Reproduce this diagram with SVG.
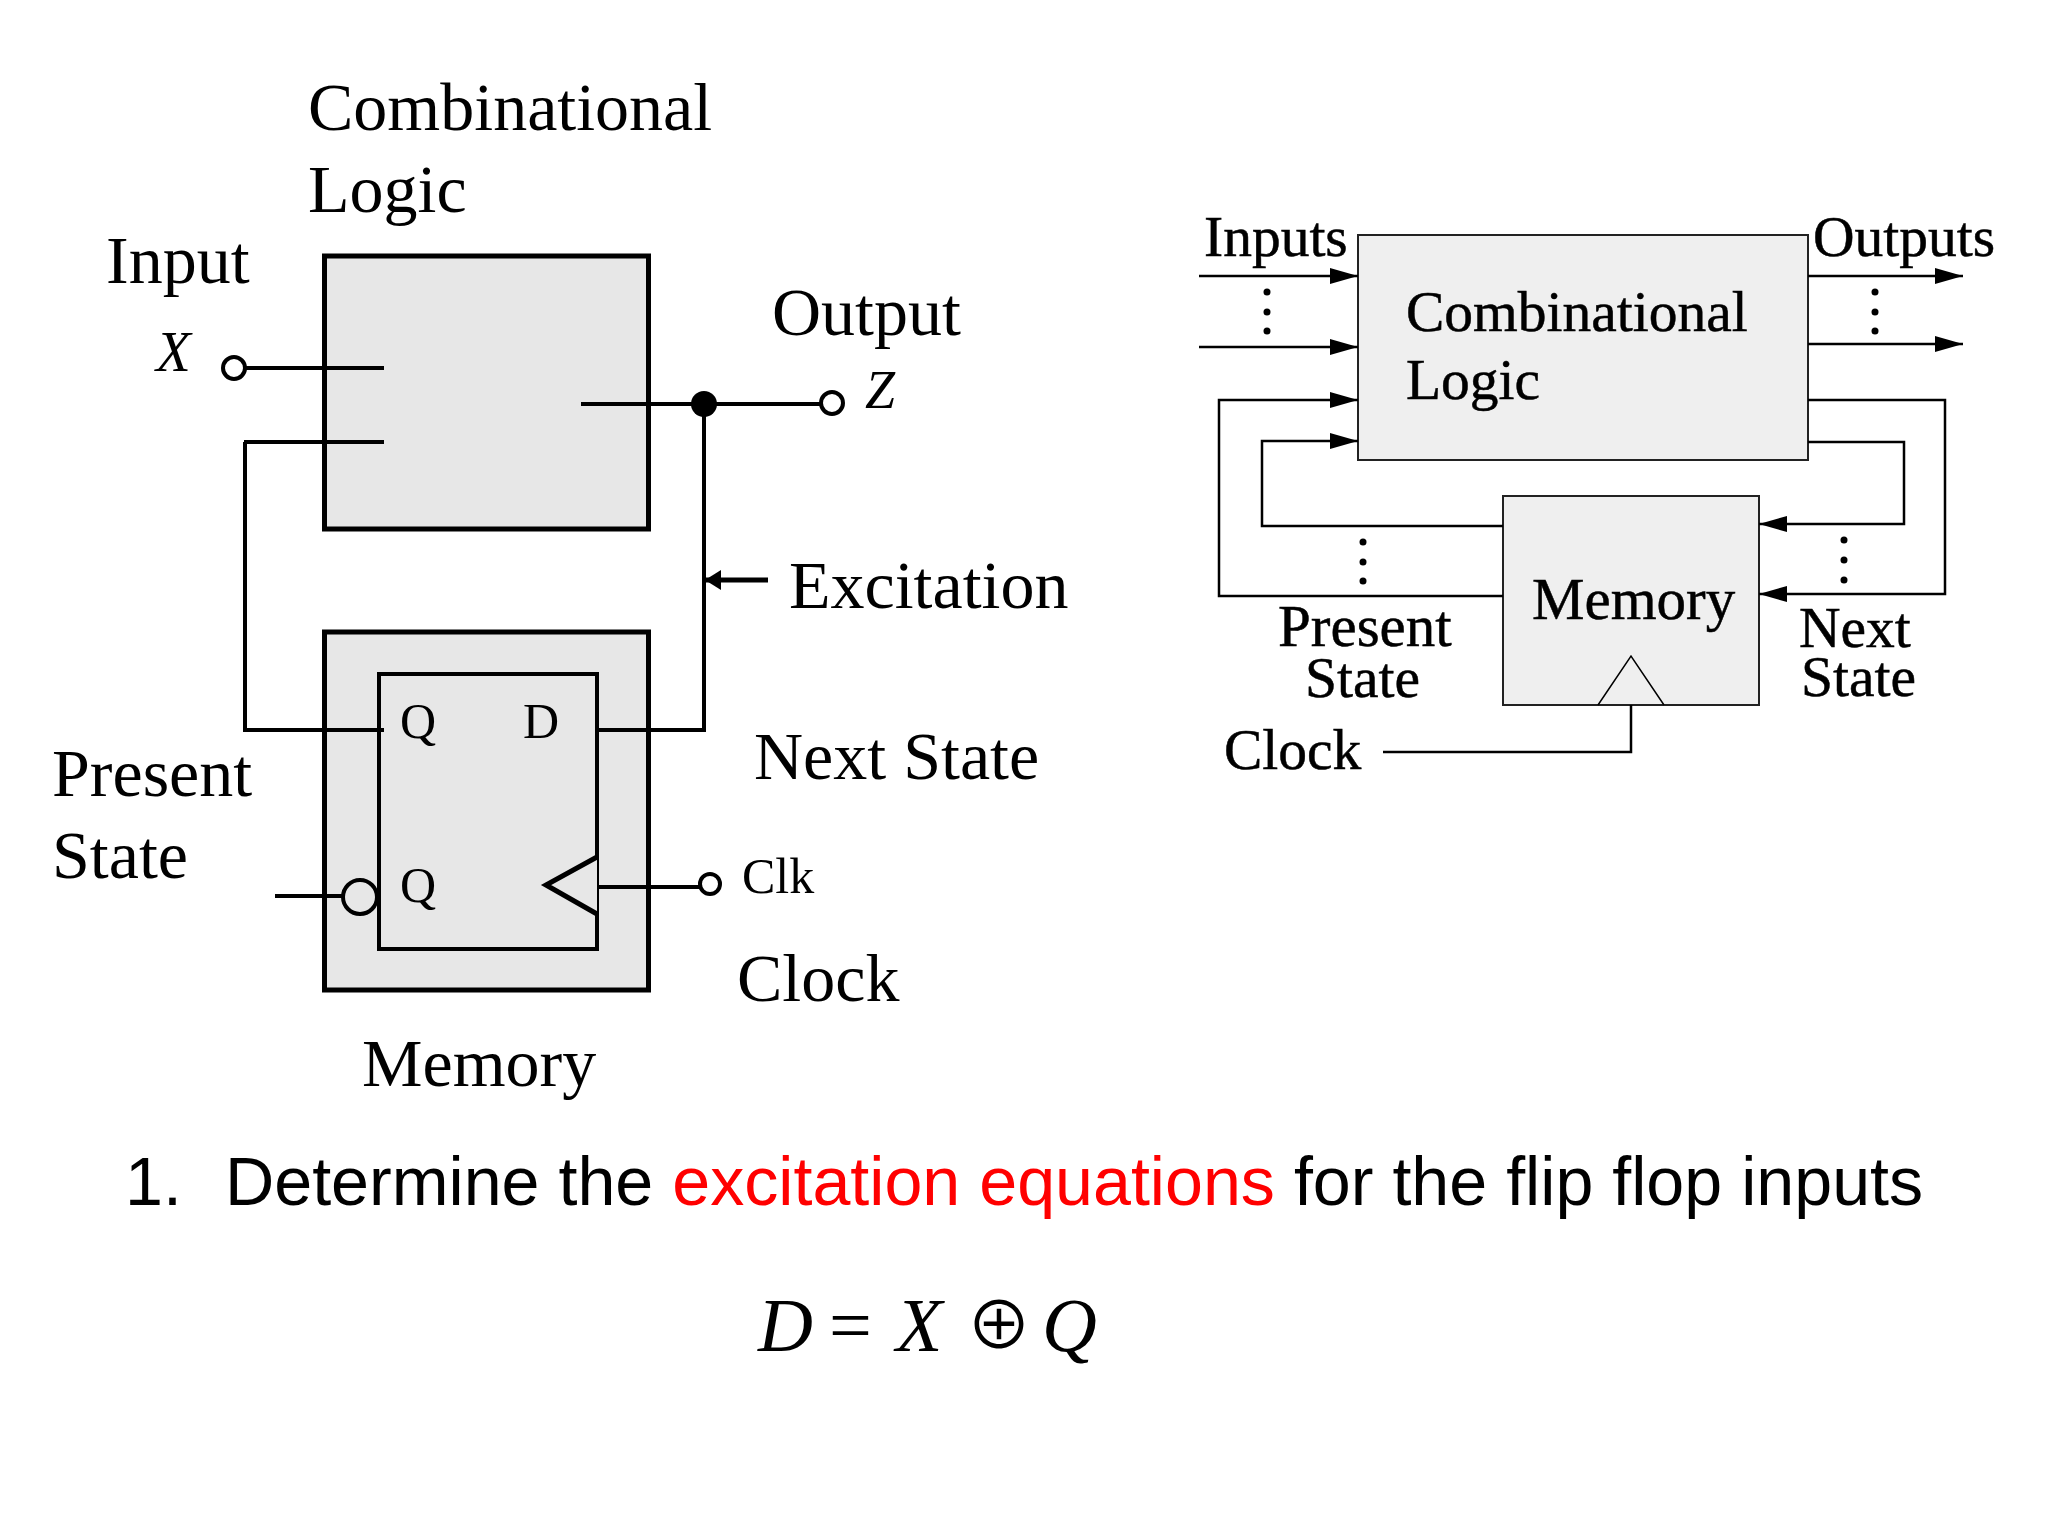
<svg xmlns="http://www.w3.org/2000/svg" width="2048" height="1536" viewBox="0 0 2048 1536">
<style>
text{font-family:"Liberation Serif","Times New Roman",serif;fill:#000}
.l{font-size:68px}.s{font-size:57.500px;stroke:#000;stroke-width:.5px}.q{font-size:50px}.i{font-style:italic;font-size:57px}
.a{font-family:"Liberation Sans",Arial,sans-serif;font-size:68.200px}
.box{fill:#e7e7e7;stroke:#000;stroke-width:5}
.box2{fill:#efefef;stroke:#222;stroke-width:2}
.w{fill:none;stroke:#000;stroke-width:4}
.t{fill:none;stroke:#000;stroke-width:2.5}
.o{fill:#fff;stroke:#000;stroke-width:4}
.e{fill:none;stroke:#000;stroke-width:5}
</style>
<defs>
<marker id="ah" markerUnits="userSpaceOnUse" markerWidth="28" markerHeight="18" refX="28" refY="9" orient="auto"><path d="M0 1L28 9L0 17Z" fill="#000"/></marker>
<marker id="ex" markerUnits="userSpaceOnUse" markerWidth="16" markerHeight="20" refX="16" refY="10" orient="auto"><path d="M0 0L16 10L0 20Z" fill="#000"/></marker>
</defs>
<g id="combinational-left"><rect class="box" x="324.500" y="256" width="324" height="273"/></g>
<g id="memory-left"><rect class="box" x="324.500" y="632" width="324" height="358"/><rect x="379" y="674" width="218" height="275" fill="none" stroke="#000" stroke-width="4"/></g>
<g id="combinational-right"><rect class="box2" x="1358" y="235" width="450" height="225"/></g>
<g id="memory-right"><rect class="box2" x="1503" y="496" width="256" height="209"/><path fill="none" stroke="#000" stroke-width="1.500" d="M1598 705L1631 656L1664 705"/></g>
<g id="connectors">
<path class="w" d="M245 368H384M244 442H384M245 442V730H384M581 404H825M704 404V730H598M275 896H344M599 887H702"/>
<path class="e" d="M768 580H705" marker-end="url(#ex)"/>
<path class="t" d="M1199 276H1358" marker-end="url(#ah)"/>
<path class="t" d="M1199 347H1358" marker-end="url(#ah)"/>
<path class="t" d="M1503 596H1219V400H1358" marker-end="url(#ah)"/>
<path class="t" d="M1503 526H1262V441H1358" marker-end="url(#ah)"/>
<path class="t" d="M1808 276H1963" marker-end="url(#ah)"/>
<path class="t" d="M1808 344H1963" marker-end="url(#ah)"/>
<path class="t" d="M1808 400H1945V594H1759" marker-end="url(#ah)"/>
<path class="t" d="M1808 442H1904V524H1759" marker-end="url(#ah)"/>
<path class="t" d="M1631 705V752H1383"/>
</g>
<g id="terminals">
<circle class="o" cx="234" cy="368" r="11"/><circle class="o" cx="832" cy="403" r="11"/><circle class="o" cx="710" cy="884" r="10"/>
<circle class="o" style="fill:#e7e7e7" cx="360" cy="897" r="17"/>
<circle cx="704" cy="404" r="13" fill="#000"/>
<path d="M597 857L546 885L597 914" fill="#e7e7e7" stroke="#000" stroke-width="5"/>
</g>
<g id="dots" fill="#000">
<circle cx="1267" cy="292" r="3.500"/><circle cx="1267" cy="312" r="3.500"/><circle cx="1267" cy="331" r="3.500"/>
<circle cx="1875" cy="292" r="3.500"/><circle cx="1875" cy="312" r="3.500"/><circle cx="1875" cy="331" r="3.500"/>
<circle cx="1363" cy="542" r="3.500"/><circle cx="1363" cy="562" r="3.500"/><circle cx="1363" cy="581" r="3.500"/>
<circle cx="1844" cy="540" r="3.500"/><circle cx="1844" cy="560" r="3.500"/><circle cx="1844" cy="580" r="3.500"/>
</g>
<g id="labels-left">
<text class="l" x="308" y="130">Combinational</text><text class="l" x="308" y="212">Logic</text>
<text class="l" x="106" y="283">Input</text><text class="i" x="156" y="371">X</text>
<text class="l" x="772" y="335">Output</text><text class="i" x="865" y="408" style="font-size:54px">Z</text>
<text class="l" x="789" y="608">Excitation</text><text class="l" x="754" y="779">Next State</text>
<text class="l" x="52" y="796">Present</text><text class="l" x="52" y="878">State</text>
<text class="l" x="737" y="1001">Clock</text><text class="l" x="362" y="1086">Memory</text>
<text class="q" x="400" y="738">Q</text><text class="q" x="523" y="738">D</text><text class="q" x="400" y="902">Q</text>
<text class="q" x="742" y="893">Clk</text>
</g>
<g id="labels-right">
<text class="s" x="1204" y="256">Inputs</text><text class="s" x="1813" y="256">Outputs</text>
<text class="s" x="1406" y="331">Combinational</text><text class="s" x="1406" y="399">Logic</text>
<text class="s" x="1532" y="619" style="font-size:59px">Memory</text><text class="s" x="1278" y="646" style="font-size:59px">Present</text><text class="s" x="1305" y="697">State</text>
<text class="s" x="1799" y="647">Next</text><text class="s" x="1801" y="696">State</text><text class="s" x="1224" y="769">Clock</text>
</g>
<g id="caption">
<text class="a" x="125" y="1205">1.</text>
<text class="a" x="225" y="1205">Determine the <tspan fill="#f00">excitation equations</tspan> for the flip flop inputs</text>
<text x="758" y="1351" font-size="76" font-style="italic">D</text><text x="829" y="1351" font-size="76">=</text><text x="896" y="1351" font-size="76" font-style="italic">X</text><text x="966" y="1349" font-size="66" style="font-family:'Noto Sans CJK SC',sans-serif">⊕</text><text x="1042" y="1351" font-size="76" font-style="italic">Q</text>
</g>
</svg>
